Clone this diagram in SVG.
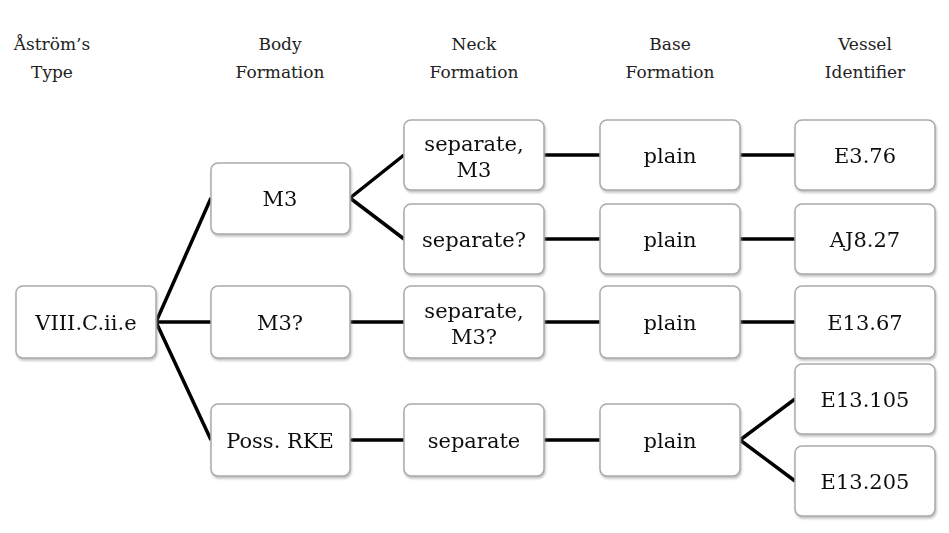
<svg xmlns="http://www.w3.org/2000/svg" width="949" height="533" viewBox="0 0 949 533">
<style>
.b{fill:#fff;stroke:#aaa;stroke-width:1.5}
.t{font-family:"DejaVu Serif","Liberation Serif",serif;font-size:21px;fill:#111;text-anchor:middle}
.h{font-family:"DejaVu Serif","Liberation Serif",serif;font-size:17px;fill:#222;text-anchor:middle}
.c{stroke:#000;stroke-width:3.5;fill:none}
</style>
<defs><filter id="s"><feDropShadow dx="1" dy="2" stdDeviation="1.2" flood-color="#999" flood-opacity="0.6"/></filter></defs>
<rect width="949" height="533" fill="#fff"/>
<g id="headers">
<text class="h" x="52" y="50">Åström’s</text><text class="h" x="52" y="78">Type</text>
<text class="h" x="280" y="50">Body</text><text class="h" x="280" y="78">Formation</text>
<text class="h" x="474" y="50">Neck</text><text class="h" x="474" y="78">Formation</text>
<text class="h" x="670" y="50">Base</text><text class="h" x="670" y="78">Formation</text>
<text class="h" x="865" y="50">Vessel</text><text class="h" x="865" y="78">Identifier</text>
</g>
<g id="connectors">
<path class="c" d="M156 322L211 198M156 322H211M156 322L211 440"/>
<path class="c" d="M350 198L404 155M350 198L404 239"/>
<path class="c" d="M544 155H600M740 155H795M544 239H600M740 239H795M350 322H404M544 322H600M740 322H795M350 440H404M544 440H600"/>
<path class="c" d="M740 440L795 399M740 440L795 481"/>
</g>
<g filter="url(#s)">
<g id="n1"><rect class="b" x="16" y="286" width="140" height="72" rx="7"/><text class="t" x="86" y="330">VIII.C.ii.e</text></g>
<g id="n2"><rect class="b" x="211" y="163" width="139" height="71" rx="7"/><text class="t" x="280" y="206">M3</text></g>
<g id="n3"><rect class="b" x="211" y="286" width="139" height="72" rx="7"/><text class="t" x="280" y="330">M3?</text></g>
<g id="n4"><rect class="b" x="211" y="404" width="139" height="72" rx="7"/><text class="t" x="280" y="448">Poss. RKE</text></g>
<g id="n5"><rect class="b" x="404" y="120" width="140" height="70" rx="7"/><text class="t" x="474" y="151">separate,</text><text class="t" x="474" y="177">M3</text></g>
<g id="n6"><rect class="b" x="404" y="204" width="140" height="70" rx="7"/><text class="t" x="474" y="247">separate?</text></g>
<g id="n7"><rect class="b" x="404" y="286" width="140" height="72" rx="7"/><text class="t" x="474" y="318">separate,</text><text class="t" x="474" y="344">M3?</text></g>
<g id="n8"><rect class="b" x="404" y="404" width="140" height="72" rx="7"/><text class="t" x="474" y="448">separate</text></g>
<g id="n9"><rect class="b" x="600" y="120" width="140" height="70" rx="7"/><text class="t" x="670" y="163">plain</text></g>
<g id="n10"><rect class="b" x="600" y="204" width="140" height="70" rx="7"/><text class="t" x="670" y="247">plain</text></g>
<g id="n11"><rect class="b" x="600" y="286" width="140" height="72" rx="7"/><text class="t" x="670" y="330">plain</text></g>
<g id="n12"><rect class="b" x="600" y="404" width="140" height="72" rx="7"/><text class="t" x="670" y="448">plain</text></g>
<g id="n13"><rect class="b" x="795" y="120" width="140" height="70" rx="7"/><text class="t" x="865" y="163">E3.76</text></g>
<g id="n14"><rect class="b" x="795" y="204" width="140" height="70" rx="7"/><text class="t" x="865" y="247">AJ8.27</text></g>
<g id="n15"><rect class="b" x="795" y="286" width="140" height="72" rx="7"/><text class="t" x="865" y="330">E13.67</text></g>
<g id="n16"><rect class="b" x="795" y="364" width="140" height="70" rx="7"/><text class="t" x="865" y="407">E13.105</text></g>
<g id="n17"><rect class="b" x="795" y="446" width="140" height="70" rx="7"/><text class="t" x="865" y="489">E13.205</text></g>
</g>
</svg>
